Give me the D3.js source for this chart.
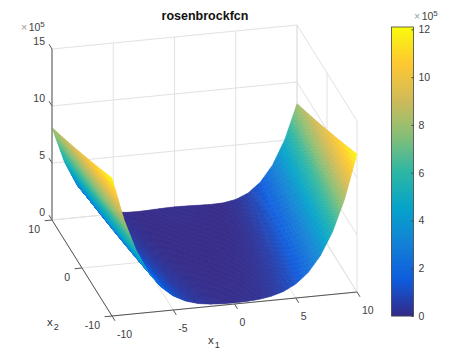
<!DOCTYPE html>
<html>
<head>
<meta charset="utf-8">
<title>rosenbrockfcn</title>
<script src="https://cdn.jsdelivr.net/npm/d3@7"></script>
<style>
    html, body { margin: 0; padding: 0; background: #fff; }
    svg { display: block; }
    text { font-family: "Liberation Sans", Arial, sans-serif; }
</style>
</head>
<body>
<div id="chart"></div>
<script>

//******************************************************************************
//**  Data
//******************************************************************************
var x1Values = [-10,-9,-8,-7,-6,-5,-4,-3,-2,-1,0,1,2,3,4,5,6,7,8,9,10];
var x2Values = [10,7.5,5,2.5,0,-2.5,-5,-7.5,-10];

//surface height, in thousands, one row per x2 value
var zAt10    = [810,504.1,291.6,152.1,67.6,22.5,3.6,0.1,3.6,8.1,10,8.1,3.6,0.1,3.6,22.5,67.6,152.1,291.6,504.1,810];
var zAt7p5   = [855.6,540.2,319.2,172.2,81.2,30.6,7.2,0.2,1.2,4.2,5.6,4.2,1.2,0.2,7.2,30.6,81.2,172.2,319.2,540.2,855.6];
var zAt5     = [902.5,577.6,348.1,193.6,96.1,40,12.1,1.6,0.1,1.6,2.5,1.6,0.1,1.6,12.1,40,96.1,193.6,348.1,577.6,902.5];
var zAt2p5   = [950.6,616.2,378.2,216.2,112.2,50.6,18.2,4.2,0.2,0.2,0.6,0.2,0.2,4.2,18.2,50.6,112.2,216.2,378.2,616.2,950.6];
var zAt0     = [1000,656.1,409.6,240.1,129.6,62.5,25.6,8.1,1.6,0.1,0,0.1,1.6,8.1,25.6,62.5,129.6,240.1,409.6,656.1,1000];
var zAtM2p5  = [1050.6,697.2,442.2,265.2,148.2,75.6,34.2,13.2,4.2,1.2,0.6,1.2,4.2,13.2,34.2,75.6,148.2,265.2,442.2,697.2,1050.6];
var zAtM5    = [1102.5,739.6,476.1,291.6,168.1,90,44.1,19.6,8.1,3.6,2.5,3.6,8.1,19.6,44.1,90,168.1,291.6,476.1,739.6,1102.5];
var zAtM7p5  = [1155.6,783.2,511.2,319.2,189.2,105.6,55.2,27.2,13.2,7.2,5.6,7.2,13.2,27.2,55.2,105.6,189.2,319.2,511.2,783.2,1155.6];
var zAtM10   = [1210,828.1,547.6,348.1,211.6,122.5,67.6,36.1,19.6,12.1,10,12.1,19.6,36.1,67.6,122.5,211.6,348.1,547.6,828.1,1210];
var zRows = [zAt10,zAt7p5,zAt5,zAt2p5,zAt0,zAtM2p5,zAtM5,zAtM7p5,zAtM10];

var x1Ticks = [-10,-5,0,5,10];
var x2Ticks = [-10,0,10];
var zTicks = [0,500,1000,1500];
var zTickLabels = ["0","5","10","15"];
var barTicks = [0,2,4,6,8,10,12];

//parula colormap stops
var parula = ["#352a87","#0f5cdd","#1481d6","#06a4ca","#2eb7a4","#87bf77","#d1bb59","#fec832","#f9fb0e"];
var colorMax = 1210;


//******************************************************************************
//**  Scales
//******************************************************************************
var width = 474, height = 355;

var groundX = {
    x1: d3.scaleLinear().domain([-10,10]).range([0,245]),
    x2: d3.scaleLinear().domain([10,-10]).range([52,112])
};
var groundY = {
    x1: d3.scaleLinear().domain([-10,10]).range([0,-24]),
    x2: d3.scaleLinear().domain([10,-10]).range([220,316])
};
var zScale = d3.scaleLinear().domain([0,1500]).range([0,-171]);

var project = function(x1, x2, z){
    return [
        groundX.x1(x1) + groundX.x2(x2),
        groundY.x1(x1) + groundY.x2(x2) + zScale(z)
    ];
};

var color = d3.scaleLinear()
    .domain(parula.map(function(d,i){ return i/(parula.length-1)*colorMax; }))
    .range(parula)
    .interpolate(d3.interpolateRgb)
    .clamp(true);

var line = d3.line();


var svg = d3.select("#chart").append("svg")
    .attr("width", width)
    .attr("height", height);


//******************************************************************************
//**  Walls and floor grid
//******************************************************************************
var gridColor = "#e2e2e2";
var grid = svg.append("g")
    .attr("fill", "none")
    .attr("stroke", gridColor)
    .attr("stroke-width", 1);

var addLine = function(group, a, b){
    group.append("path").attr("d", line([project(a[0],a[1],a[2]), project(b[0],b[1],b[2])]));
};

x1Ticks.forEach(function(x){
    addLine(grid, [x,10,0], [x,10,1500]);   //back wall
    addLine(grid, [x,10,0], [x,-10,0]);     //floor
});
x2Ticks.forEach(function(y){
    addLine(grid, [10,y,0], [10,y,1500]);   //right wall
    addLine(grid, [-10,y,0], [10,y,0]);     //floor
});
zTicks.forEach(function(z){
    addLine(grid, [-10,10,z], [10,10,z]);
    addLine(grid, [10,10,z], [10,-10,z]);
});


//******************************************************************************
//**  Surface
//******************************************************************************
var steps = 10;
var cells = [];

//far to near: camera sits on the low x1, low x2 side
x2Values.forEach(function(y0, r){
    if (r === x2Values.length-1) return;
    for (var v = 0; v < steps; v++){
        for (var c = x1Values.length-2; c >= 0; c--){
            for (var u = steps-1; u >= 0; u--){
                cells.push({r:r, c:c, u:u, v:v});
            }
        }
    }
});

var heightAt = function(r, c, u, v){
    var a = zRows[r][c], b = zRows[r][c+1], d = zRows[r+1][c], e = zRows[r+1][c+1];
    return (a*(1-u)+b*u)*(1-v) + (d*(1-u)+e*u)*v;
};

var corner = function(cell, du, dv){
    var u = (cell.u+du)/steps, v = (cell.v+dv)/steps;
    var x = x1Values[cell.c] + (x1Values[cell.c+1]-x1Values[cell.c])*u;
    var y = x2Values[cell.r] + (x2Values[cell.r+1]-x2Values[cell.r])*v;
    return project(x, y, heightAt(cell.r, cell.c, u, v));
};

var cellColor = function(d){
    return color(heightAt(d.r, d.c, (d.u+0.5)/steps, (d.v+0.5)/steps));
};

svg.append("g")
    .selectAll("path")
    .data(cells)
    .enter()
    .append("path")
    .attr("d", function(d){
        return line([corner(d,0,0), corner(d,1,0), corner(d,1,1), corner(d,0,1)]) + "Z";
    })
    .attr("fill", cellColor)
    .attr("stroke", cellColor)
    .attr("stroke-width", 0.5)
    .attr("stroke-linejoin", "round");


//******************************************************************************
//**  3D axes
//******************************************************************************
var axes = svg.append("g").attr("fill", "none").attr("stroke", "#555").attr("stroke-width", 1);
addLine(axes, [-10,-10,0], [10,-10,0]);
addLine(axes, [-10,10,0], [-10,-10,0]);

svg.append("path")
    .attr("d", line([project(-10,10,0), project(-10,10,1500)]))
    .attr("fill", "none")
    .attr("stroke", "#777")
    .attr("stroke-width", 1.3);

x1Ticks.forEach(function(x){ addLine(axes, [x,-10,0], [x,-11,0]); });
x2Ticks.forEach(function(y){ addLine(axes, [-10,y,0], [-10.6,y,0]); });
zTicks.forEach(function(z){ addLine(axes, [-10,10,z], [-10,11,z]); });

var labels = svg.append("g")
    .attr("font-size", 10.5)
    .attr("fill", "#404040");

labels.selectAll(".x1").data(x1Ticks).enter().append("text")
    .attr("x", function(d){ return project(d,-10,0)[0] + 5; })
    .attr("y", function(d){ return project(d,-10,0)[1] + 22; })
    .text(function(d){ return d; });

labels.selectAll(".x2").data(x2Ticks).enter().append("text")
    .attr("text-anchor", "end")
    .attr("x", function(d){ return project(-10,d,0)[0] - 12; })
    .attr("y", function(d){ return project(-10,d,0)[1] + 13; })
    .text(function(d){ return d; });

labels.selectAll(".z").data(zTicks).enter().append("text")
    .attr("text-anchor", "end")
    .attr("x", function(d){ return project(-10,10,d)[0] - 7; })
    .attr("y", function(d){ return project(-10,10,d)[1] - 4; })
    .text(function(d,i){ return zTickLabels[i]; });

//axis labels with subscripts
var axisLabel = function(x, y, sub){
    var t = svg.append("text").attr("x", x).attr("y", y)
        .attr("font-size", 11.5).attr("fill", "#333").text("x");
    t.append("tspan").attr("dx", 1).attr("dy", 4).attr("font-size", 9).text(sub);
};
axisLabel(208, 344, "1");
axisLabel(47, 326, "2");

//exponent labels
var exponent = function(x, y){
    var t = svg.append("text").attr("x", x).attr("y", y)
        .attr("font-size", 10.5).attr("fill", "#404040");
    t.append("tspan").attr("fill", "#999").text("\u00d7");
    t.append("tspan").attr("dx", 1.5).text("10");
    t.append("tspan").attr("dy", -4).attr("font-size", 8).text("5");
};
exponent(21, 31);
exponent(414, 20);

svg.append("text")
    .attr("x", 205)
    .attr("y", 20)
    .attr("text-anchor", "middle")
    .attr("font-size", 12.5)
    .attr("font-weight", "bold")
    .attr("fill", "#111")
    .text("rosenbrockfcn");


//******************************************************************************
//**  Colorbar
//******************************************************************************
var barLeft = 391.5, barWidth = 22;
var barScale = d3.scaleLinear().domain([0,12.1]).range([316,27]);
var barBands = d3.range(0,289);

svg.append("g")
    .selectAll("rect")
    .data(barBands)
    .enter()
    .append("rect")
    .attr("x", barLeft)
    .attr("width", barWidth)
    .attr("y", function(d){ return barScale((d+1)/289*12.1); })
    .attr("height", 1.2)
    .attr("fill", function(d){ return color((d+0.5)/289*colorMax); });

svg.append("rect")
    .attr("x", barLeft)
    .attr("y", 27)
    .attr("width", barWidth)
    .attr("height", 289)
    .attr("fill", "none")
    .attr("stroke", "#444")
    .attr("stroke-width", 0.8);

var barAxis = svg.append("g")
    .attr("transform", "translate(" + (barLeft+barWidth) + ",0)")
    .call(d3.axisRight(barScale).tickValues(barTicks).tickSizeInner(-2).tickSizeOuter(0).tickPadding(5));
barAxis.select(".domain").remove();
barAxis.selectAll("text")
    .attr("font-size", 10.5)
    .attr("font-family", "Liberation Sans")
    .attr("fill", "#404040");
barAxis.selectAll("line").attr("stroke", "#444");

</script>
</body>
</html>
